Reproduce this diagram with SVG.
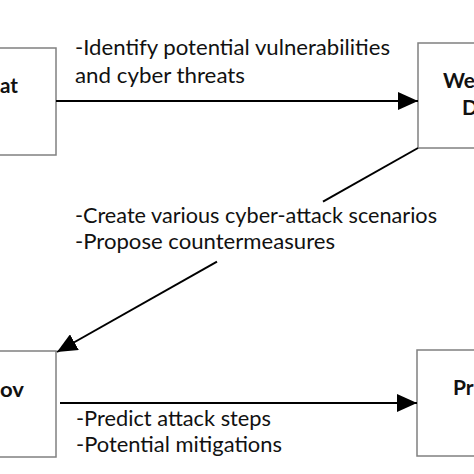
<svg xmlns="http://www.w3.org/2000/svg" width="474" height="474" viewBox="0 0 474 474">
<style>
.box{fill:#fff;stroke:#808080;stroke-width:1.5}
.lbl{font-family:Lato,"Liberation Sans",sans-serif;font-size:21px;fill:#111}
.nd{font-family:Lato,"Liberation Sans",sans-serif;font-size:21px;font-weight:bold;fill:#111}
.ln{stroke:#000;stroke-width:2;fill:none}
</style>
<defs>
<marker id="ah" markerUnits="userSpaceOnUse" markerWidth="20" markerHeight="18" refX="20" refY="9" orient="auto" viewBox="0 0 20 18">
<path d="M0,0 L20,9 L0,18 z" fill="#000"/>
</marker>
</defs>
<rect width="474" height="474" fill="#fff"/>
<g id="node-threat">
<rect class="box" x="-10" y="48" width="66" height="107"/>
<text class="nd" x="0" y="93" textLength="18" lengthAdjust="spacingAndGlyphs">at</text>
</g>
<g id="node-web">
<rect class="box" x="418" y="43" width="80" height="105"/>
<text class="nd" x="443" y="88">We</text>
<text class="nd" x="462" y="115">D</text>
</g>
<g id="node-markov">
<rect class="box" x="-10" y="351" width="66" height="106"/>
<text class="nd" x="0" y="397" textLength="24" lengthAdjust="spacingAndGlyphs">ov</text>
</g>
<g id="node-pred">
<rect class="box" x="417" y="350" width="80" height="106"/>
<text class="nd" x="453" y="395">Pr</text>
</g>
<g id="connectors">
<line class="ln" x1="56" y1="101" x2="418" y2="101" marker-end="url(#ah)"/>
<line class="ln" x1="418" y1="148" x2="323" y2="201.7"/>
<line class="ln" x1="217" y1="261.6" x2="57" y2="352" marker-end="url(#ah)"/>
<line class="ln" x1="60" y1="403" x2="417" y2="403" marker-end="url(#ah)"/>
</g>
<g id="labels">
<text class="lbl" x="75" y="55" textLength="315" lengthAdjust="spacingAndGlyphs">-Identify potential vulnerabilities</text>
<text class="lbl" x="75" y="83" textLength="170" lengthAdjust="spacingAndGlyphs">and cyber threats</text>
<text class="lbl" x="75" y="223" textLength="362" lengthAdjust="spacingAndGlyphs">-Create various cyber-attack scenarios</text>
<text class="lbl" x="75" y="249" textLength="260" lengthAdjust="spacingAndGlyphs">-Propose countermeasures</text>
<text class="lbl" x="76" y="426" textLength="195" lengthAdjust="spacingAndGlyphs">-Predict attack steps</text>
<text class="lbl" x="76" y="452" textLength="206" lengthAdjust="spacingAndGlyphs">-Potential mitigations</text>
</g>
</svg>
